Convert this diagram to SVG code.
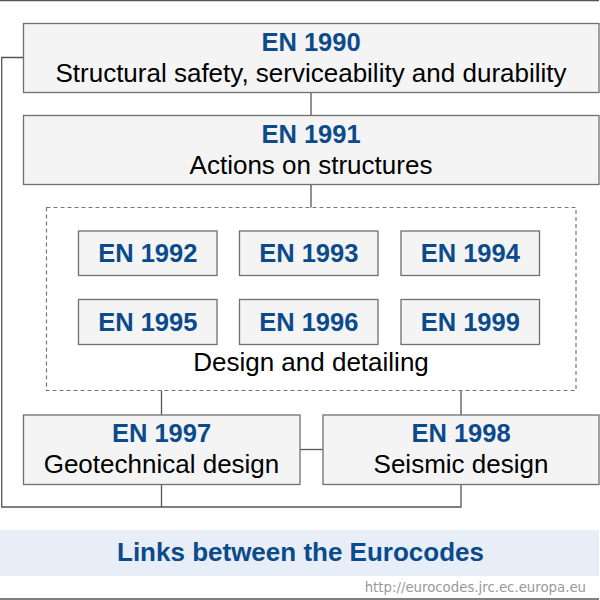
<svg xmlns="http://www.w3.org/2000/svg" width="600" height="600" viewBox="0 0 600 600">
<style>
.box{fill:#f4f4f4;stroke:#707070;stroke-width:1.3}
.code{font-family:"Liberation Sans",Arial,sans-serif;font-weight:bold;font-size:25.5px;fill:#0b4a8b;text-anchor:middle}
.desc{font-family:"Liberation Sans",Arial,sans-serif;font-size:26px;fill:#000;text-anchor:middle}
.conn{fill:none;stroke:#555;stroke-width:1.3}
</style>
<rect width="600" height="600" fill="#fff"/>
<line x1="0" y1="0.7" x2="599" y2="0.7" stroke="#555" stroke-width="1.3"/>
<line x1="0" y1="599" x2="599" y2="599" stroke="#555" stroke-width="1.3"/>
<g id="connectors" class="conn">
<path d="M23,57.5 H1.7 V507 H461 V484.5"/>
<path d="M161.5,484.5 V507"/>
<path d="M311,92.5 V115.5"/>
<path d="M311,184.5 V207.5"/>
<path d="M161.5,390.5 V415"/>
<path d="M461,390.5 V415"/>
<path d="M300,449.5 H323"/>
</g>
<g id="en1990">
<rect class="box" x="23.5" y="23.5" width="575.5" height="69"/>
<text class="code" x="311" y="50.5">EN 1990</text>
<text class="desc" x="311" y="81.5">Structural safety, serviceability and durability</text>
</g>
<g id="en1991">
<rect class="box" x="23.5" y="115.5" width="575.5" height="69"/>
<text class="code" x="311" y="142.5">EN 1991</text>
<text class="desc" x="311" y="173.5">Actions on structures</text>
</g>
<g id="design">
<rect x="46.5" y="207.5" width="529.5" height="183" fill="none" stroke="#777" stroke-width="1.2" stroke-dasharray="4,3"/>
<text class="desc" x="311" y="370.5">Design and detailing</text>
</g>
<g id="en1992"><rect class="box" x="78.5" y="231" width="138.5" height="44.5"/><text class="code" x="147.8" y="262">EN 1992</text></g>
<g id="en1993"><rect class="box" x="239.5" y="231" width="138.5" height="44.5"/><text class="code" x="308.8" y="262">EN 1993</text></g>
<g id="en1994"><rect class="box" x="401" y="231" width="138.5" height="44.5"/><text class="code" x="470.3" y="262">EN 1994</text></g>
<g id="en1995"><rect class="box" x="78.5" y="299.5" width="138.5" height="45"/><text class="code" x="147.8" y="331">EN 1995</text></g>
<g id="en1996"><rect class="box" x="239.5" y="299.5" width="138.5" height="45"/><text class="code" x="308.8" y="331">EN 1996</text></g>
<g id="en1999"><rect class="box" x="401" y="299.5" width="138.5" height="45"/><text class="code" x="470.3" y="331">EN 1999</text></g>
<g id="en1997">
<rect class="box" x="23.5" y="415" width="276.5" height="69.5"/>
<text class="code" x="161.5" y="442">EN 1997</text>
<text class="desc" x="161.5" y="472.5">Geotechnical design</text>
</g>
<g id="en1998">
<rect class="box" x="323" y="415" width="276" height="69.5"/>
<text class="code" x="461" y="442">EN 1998</text>
<text class="desc" x="461" y="472.5">Seismic design</text>
</g>
<g id="title">
<rect x="0" y="530" width="599" height="46" fill="#e8eef8"/>
<text x="300.5" y="561" font-family="'Liberation Sans',Arial,sans-serif" font-weight="bold" font-size="26" fill="#0b4a8b" text-anchor="middle">Links between the Eurocodes</text>
<text x="586" y="592" font-family="'DejaVu Sans',Verdana,sans-serif" font-size="13.3" fill="#999" text-anchor="end">http://eurocodes.jrc.ec.europa.eu</text>
</g>
</svg>
